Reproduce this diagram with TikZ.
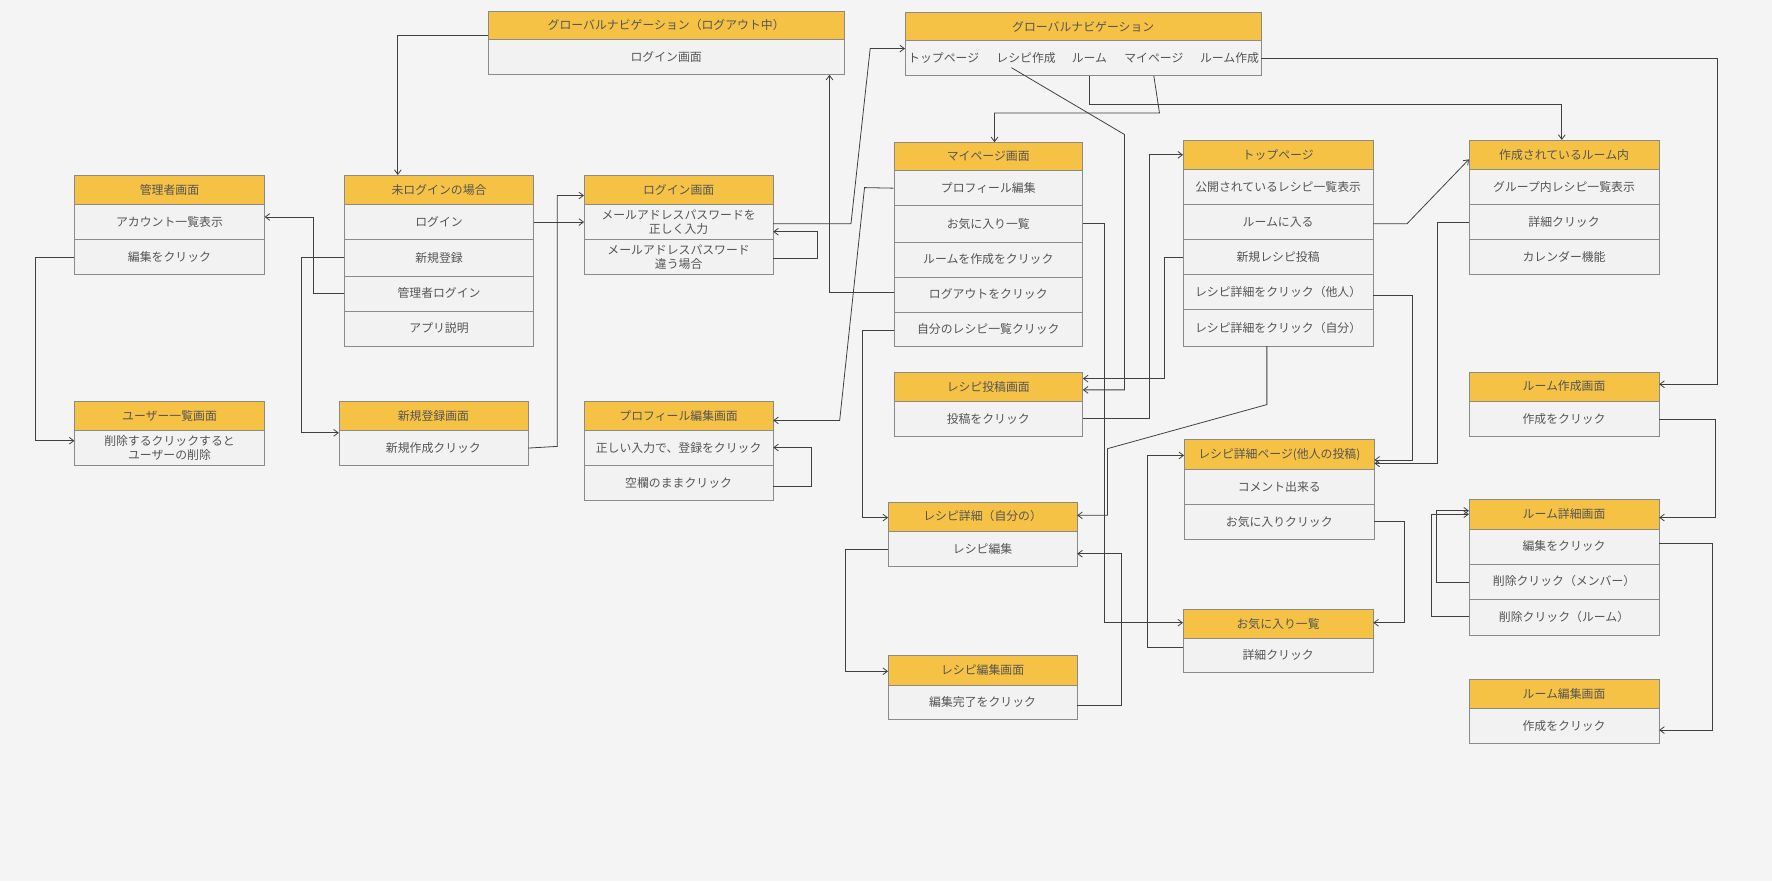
\documentclass[tikz,border=0pt]{standalone}
\usepackage{fontspec}
\setmainfont{Noto Sans CJK JP}
\usetikzlibrary{arrows.meta}
\definecolor{hdc}{HTML}{F5C245}
\definecolor{rwc}{HTML}{F2F2F2}
\definecolor{bgc}{HTML}{F4F4F4}
\definecolor{txc}{HTML}{555555}
\definecolor{bdc}{HTML}{8A8A8A}
\tikzset{
 hd/.style={draw=bdc,fill=hdc,inner sep=0pt,text=txc,font=\fontsize{10.5}{12}\selectfont,align=center},
 rw/.style={draw=bdc,fill=rwc,inner sep=0pt,text=txc,font=\fontsize{10.5}{12}\selectfont,align=center},
 ar/.style={draw=black!75,line width=0.7pt,-{Straight Barb[length=4pt,width=6pt]}},
}
\newcommand\hb[6]{\node[hd,minimum width={(#4-#2)*1pt},minimum height={(#5-#3)*1pt}] (#1) at ({(#2+#4)/2},{(#3+#5)/2}) {#6};}
\newcommand\rb[6]{\node[rw,minimum width={(#4-#2)*1pt},minimum height={(#5-#3)*1pt}] (#1) at ({(#2+#4)/2},{(#3+#5)/2}) {#6};}
\begin{document}
\begin{tikzpicture}[x=1pt,y=-1pt]
\fill[bgc] (0,0) rectangle (1568,780);
\useasboundingbox (0,0) rectangle (1568,780);
% global nav logged out
\hb{go-h}{432}{10}{747}{35}{グローバルナビゲーション（ログアウト中）}
\rb{go-r}{432}{35}{747}{66}{ログイン画面}
% global nav
\hb{gn-h}{801}{11}{1116}{36}{グローバルナビゲーション}
\rb{gn-r}{801}{36}{1116}{67}{}
\node[text=txc,font=\fontsize{10.5}{12}\selectfont] (gn1) at (835,51.5) {トップページ};
\node[text=txc,font=\fontsize{10.5}{12}\selectfont] (gn2) at (908,51.5) {レシピ作成};
\node[text=txc,font=\fontsize{10.5}{12}\selectfont] (gn3) at (964,51.5) {ルーム};
\node[text=txc,font=\fontsize{10.5}{12}\selectfont] (gn4) at (1021,51.5) {マイページ};
\node[text=txc,font=\fontsize{10.5}{12}\selectfont] (gn5) at (1088,51.5) {ルーム作成};
% admin
\hb{ad-h}{66}{155}{234}{181}{管理者画面}
\rb{ad-1}{66}{181}{234}{212}{アカウント一覧表示}
\rb{ad-2}{66}{212}{234}{243}{編集をクリック}
% not logged in
\hb{nl-h}{305}{155}{472}{181}{未ログインの場合}
\rb{nl-1}{305}{181}{472}{212}{ログイン}
\rb{nl-2}{305}{212}{472}{244}{新規登録}
\rb{nl-3}{305}{244}{472}{275}{管理者ログイン}
\rb{nl-4}{305}{275}{472}{306}{アプリ説明}
% login
\hb{lg-h}{517}{155}{684}{181}{ログイン画面}
\rb{lg-1}{517}{181}{684}{212}{メールアドレスパスワードを\\正しく入力}
\rb{lg-2}{517}{212}{684}{243}{メールアドレスパスワード\\違う場合}
% users
\hb{us-h}{66}{355}{234}{381}{ユーザー一覧画面}
\rb{us-1}{66}{381}{234}{412}{削除するクリックすると\\ユーザーの削除}
% register
\hb{rg-h}{300}{355}{467}{381}{新規登録画面}
\rb{rg-1}{300}{381}{467}{412}{新規作成クリック}
% profile edit
\hb{pe-h}{517}{355}{684}{381}{プロフィール編集画面}
\rb{pe-1}{517}{381}{684}{412}{正しい入力で、登録をクリック}
\rb{pe-2}{517}{412}{684}{443}{空欄のままクリック}
% mypage
\hb{mp-h}{791}{126}{958}{151}{マイページ画面}
\rb{mp-1}{791}{151}{958}{182}{プロフィール編集}
\rb{mp-2}{791}{182}{958}{214}{お気に入り一覧}
\rb{mp-3}{791}{214}{958}{245}{ルームを作成をクリック}
\rb{mp-4}{791}{245}{958}{276}{ログアウトをクリック}
\rb{mp-5}{791}{276}{958}{306}{自分のレシピ一覧クリック}
% top page
\hb{tp-h}{1047}{124}{1215}{150}{トップページ}
\rb{tp-1}{1047}{150}{1215}{181}{公開されているレシピ一覧表示}
\rb{tp-2}{1047}{181}{1215}{212}{ルームに入る}
\rb{tp-3}{1047}{212}{1215}{243}{新規レシピ投稿}
\rb{tp-4}{1047}{243}{1215}{274}{レシピ詳細をクリック（他人）}
\rb{tp-5}{1047}{274}{1215}{306}{レシピ詳細をクリック（自分）}
% in room
\hb{ir-h}{1300}{124}{1468}{150}{作成されているルーム内}
\rb{ir-1}{1300}{150}{1468}{181}{グループ内レシピ一覧表示}
\rb{ir-2}{1300}{181}{1468}{212}{詳細クリック}
\rb{ir-3}{1300}{212}{1468}{243}{カレンダー機能}
% recipe post
\hb{rp-h}{791}{329}{958}{355}{レシピ投稿画面}
\rb{rp-1}{791}{355}{958}{386}{投稿をクリック}
% room create
\hb{rc-h}{1300}{329}{1468}{355}{ルーム作成画面}
\rb{rc-1}{1300}{355}{1468}{386}{作成をクリック}
% recipe detail other
\hb{ro-h}{1048}{389}{1216}{415}{レシピ詳細ページ(他人の投稿)}
\rb{ro-1}{1048}{415}{1216}{446}{コメント出来る}
\rb{ro-2}{1048}{446}{1216}{477}{お気に入りクリック}
% recipe detail mine
\hb{rm-h}{786}{444}{953}{470}{レシピ詳細（自分の）}
\rb{rm-1}{786}{470}{953}{501}{レシピ編集}
% room detail
\hb{rd-h}{1300}{442}{1468}{468}{ルーム詳細画面}
\rb{rd-1}{1300}{468}{1468}{499}{編集をクリック}
\rb{rd-2}{1300}{499}{1468}{530}{削除クリック（メンバー）}
\rb{rd-3}{1300}{530}{1468}{562}{削除クリック（ルーム）}
% favourites
\hb{fv-h}{1047}{539}{1215}{565}{お気に入り一覧}
\rb{fv-1}{1047}{565}{1215}{595}{詳細クリック}
% recipe edit
\hb{re-h}{786}{580}{953}{606}{レシピ編集画面}
\rb{re-1}{786}{606}{953}{636}{編集完了をクリック}
% room edit
\hb{rx-h}{1300}{601}{1468}{627}{ルーム編集画面}
\rb{rx-1}{1300}{627}{1468}{658}{作成をクリック}
% connectors
\draw[ar] (go-h.west |- 0,31) -- (352,31) -- (nl-h.north -| 352,0);
\draw[ar] (nl-3.west) -- (277,259.5) -- (277,192) -- (ad-1.east |- 0,192);
\draw[ar] (ad-2.west) -- (31,227.5) -- (31,390) -- (us-1.west |- 0,390);
\draw[ar] (nl-2.west) -- (267,228) -- (267,383) -- (rg-h.west |- 0,383);
\draw[ar] (nl-1.east) -- (lg-1.west |- nl-1.east);
\draw[ar] (rg-1.east) -- (493,395) -- (493,173) -- (lg-h.west |- 0,173);
\draw[ar] (lg-1.east |- 0,198) -- (753,198) -- (770,43) -- (gn-r.west |- 0,43);
\draw[ar] (lg-2.east |- 0,229) -- (723,229) -- (723,205) -- (lg-1.east |- 0,205);
\draw[ar] (mp-4.west |- 0,259) -- (734,259) -- (go-r.south -| 734,0);
\draw[ar] (mp-1.west) -- (765,166) -- (743,372) -- (pe-h.east |- 0,372);
\draw[ar] (mp-5.west |- 0,292) -- (763,292) -- (763,458) -- (rm-h.west |- 0,458);
\draw[ar] (gn4 |- gn-r.south) -- (1026,100) -- (880,100) -- (mp-h.north -| 880,0);
\draw[ar] (gn3 |- gn-r.south) -- (964,92) -- (1382,92) -- (ir-h.north -| 1382,0);
\draw[ar] (gn2.south -| 895,0) -- (995,119) -- (995,345) -- (rp-h.east |- 0,345);
\draw[ar] (gn-r.east) -- (1520,51.5) -- (1520,340) -- (rc-h.east |- 0,340);
\draw[ar] (tp-3.west) -- (1030,227.5) -- (1030,335) -- (rp-h.east |- 0,335);
\draw[ar] (rp-1.east |- 0,370) -- (1017,370) -- (1017,137) -- (tp-h.west);
\draw[ar] (tp-2.east |- 0,198) -- (1245,198) -- (ir-h.west |- 0,141);
\draw[ar] (tp-4.east |- 0,261) -- (1250,261) -- (1250,407) -- (ro-h.east |- 0,407);
\draw[ar] (ir-2.west |- 0,197) -- (1272,197) -- (1272,410) -- (ro-h.east |- 0,410);
\draw[ar] (tp-5.south -| 1121,0) -- (1121,358) -- (980,397) -- (980,456) -- (rm-h.east |- 0,456);
\draw[ar] (mp-2.east) -- (977,198) -- (977,551) -- (fv-h.west |- 0,551);
\draw[ar] (ro-2.east) -- (1243,461.5) -- (1243,551) -- (fv-h.east |- 0,551);
\draw[ar] (fv-1.west |- 0,573) -- (1015,573) -- (1015,403) -- (ro-h.west |- 0,403);
\draw[ar] (rm-1.west |- 0,486) -- (748,486) -- (748,594) -- (re-h.west |- 0,594);
\draw[ar] (re-1.east |- 0,624) -- (992,624) -- (992,490) -- (rm-1.east |- 0,490);
\draw[ar] (rc-1.east |- 0,371) -- (1518,371) -- (1518,458) -- (rd-h.east |- 0,458);
\draw[ar] (rd-1.east |- 0,481) -- (1515,481) -- (1515,646) -- (rx-1.east |- 0,646);
\draw[ar] (rd-2.west |- 0,515) -- (1271,515) -- (1271,452) -- (rd-h.west |- 0,452);
\draw[ar] (rd-3.west |- 0,545) -- (1267,545) -- (1267,455) -- (rd-h.west |- 0,455);
\draw[ar] (pe-2.east |- 0,430) -- (718,430) -- (718,396) -- (pe-1.east |- 0,396);
\end{tikzpicture}
\end{document}
